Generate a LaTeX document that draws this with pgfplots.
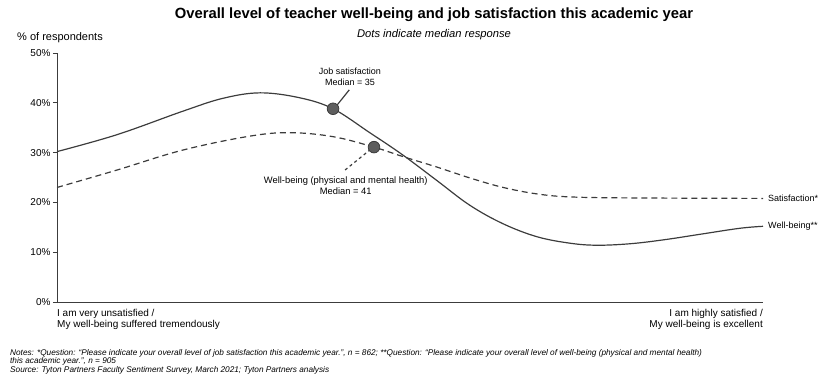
\documentclass[border=0pt]{standalone}
\usepackage{fontspec}
\setmainfont{Liberation Sans}
\usepackage{pgfplots}
\pgfplotsset{compat=1.18}
\definecolor{linec}{HTML}{3C3C3C}
\definecolor{dotc}{HTML}{5E5E5E}
\begin{document}
\begin{tikzpicture}
\path[use as bounding box] (0,0) rectangle (825bp,384bp);
\begin{axis}[
  at={(57bp,82bp)}, anchor=south west,
  scale only axis, width=706bp, height=249bp,
  xmin=0, xmax=100, ymin=0, ymax=50,
  axis x line=bottom, axis y line=left,
  axis line style={-, draw=linec, line width=1pt},
  xtick=\empty,
  ytick={0,10,20,30,40,50},
  yticklabel={\pgfmathprintnumber{\tick}\%},
  /pgf/number format/assume math mode=true,
  tick align=outside, major tick length=4bp,
  tick style={draw=linec, line width=0.8pt},
  yticklabel style={font=\fontsize{10bp}{12bp}\selectfont, text=black, xshift=1bp},
  clip=false,
]
\addplot[linec, line width=1.2pt, smooth, tension=0.6] coordinates {
 (0,30.2) (8.5,33.6) (17.8,38.3) (23.5,40.9) (28.8,42.0) (34.4,41.0) (39.1,38.8) (44.3,34.0)
 (49.0,29.5) (53.8,24.4) (58.5,19.4) (63.2,15.7) (68.0,13.1) (72.7,11.8) (76.5,11.4)
 (81.2,11.7) (86,12.5) (91.1,13.6) (96.7,14.8) (100,15.2)};
\addplot[linec, line width=1.2pt, dash pattern=on 6bp off 4bp, smooth, tension=0.6] coordinates {
 (0,23.0) (8.5,26.5) (17.8,30.5) (27.3,33.3) (33.0,34.0) (39.1,33.2) (44.9,31.1)
 (49.0,29.2) (53.8,27.1) (58.5,24.9) (63.2,23.0) (68.0,21.7) (72.7,21.1) (81.2,20.9) (100,20.8)};
\draw[linec, line width=1.2pt] (axis cs:41.4,42.6) -- (axis cs:39.7,39.6);
\draw[linec, line width=1.2pt, dash pattern=on 3bp off 3bp] (axis cs:40.8,26.5) -- (axis cs:44.2,30.4);
\addplot[only marks, mark=*, mark size=5.8bp, mark options={fill=dotc, draw=linec, line width=0.8pt}] coordinates {(39.1,38.8)};
\addplot[only marks, mark=*, mark size=5.8bp, mark options={fill=dotc, draw=linec, line width=0.8pt}] coordinates {(44.9,31.1)};
\node[align=center, font=\fontsize{9bp}{10.5bp}\selectfont, anchor=south] at (axis cs:41.5,42.8) {Job satisfaction\\Median = 35};
\node[align=center, font=\fontsize{9.35bp}{11bp}\selectfont, anchor=north] at (axis cs:40.9,25.8) {Well-being (physical and mental health)\\Median = 41};
\node[anchor=west, font=\fontsize{9bp}{10bp}\selectfont, inner sep=0pt, xshift=5bp] at (axis cs:100,20.8) {Satisfaction*};
\node[anchor=west, font=\fontsize{9bp}{10bp}\selectfont, inner sep=0pt, xshift=5bp] at (axis cs:100,15.2) {Well-being**};
\end{axis}
\node[font=\bfseries\fontsize{14.8bp}{16bp}\selectfont] at (434bp,369bp) {Overall level of teacher well-being and job satisfaction this academic year};
\node[font=\itshape\fontsize{11.2bp}{13bp}\selectfont] at (434bp,349bp) {Dots indicate median response};
\node[anchor=west, inner sep=0pt, font=\fontsize{11bp}{12bp}\selectfont] at (17bp,346bp) {\% of respondents};
\node[anchor=north west, align=left, inner sep=0pt, font=\fontsize{10bp}{11.5bp}\selectfont] at (57bp,75bp) {I am very unsatisfied /\\My well-being suffered tremendously};
\node[anchor=north east, align=right, inner sep=0pt, font=\fontsize{10bp}{11.5bp}\selectfont] at (763bp,75bp) {I am highly satisfied /\\My well-being is excellent};
\node[anchor=north west, align=left, inner sep=0pt, font=\itshape\fontsize{8.25bp}{8.6bp}\selectfont] at (10bp,35bp) {Notes: *Question: ``Please indicate your overall level of job satisfaction this academic year.'', n = 862; **Question: ``Please indicate your overall level of well-being (physical and mental health)\\this academic year.'', n = 905\\Source: Tyton Partners Faculty Sentiment Survey, March 2021; Tyton Partners analysis};
\end{tikzpicture}
\end{document}
